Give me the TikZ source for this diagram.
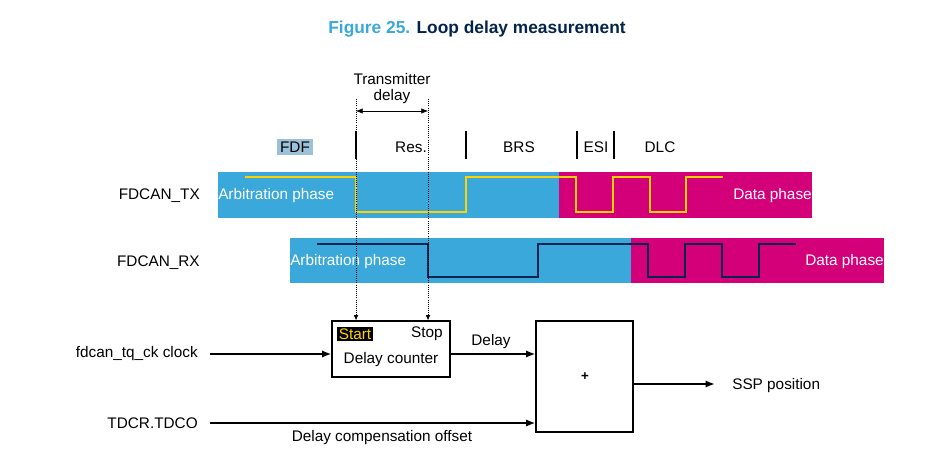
\documentclass[tikz,border=0pt]{standalone}
\usepackage{fontspec}
\setmainfont{Liberation Sans}
\usetikzlibrary{arrows.meta}

\definecolor{arbblue}{HTML}{3AA8DA}
\definecolor{datamag}{HTML}{D4007A}
\definecolor{txyellow}{HTML}{FFD200}
\definecolor{rxnavy}{HTML}{0B2551}
\definecolor{titleblue}{HTML}{3AA8DC}
\definecolor{titlenavy}{HTML}{03234B}
\definecolor{fdfback}{HTML}{9CC2DA}

\begin{document}
\begin{tikzpicture}[x = .75pt, y = -.75pt, font = \fontsize{11.5}{13}\selectfont,
    lbl/.style = {inner sep = 0pt, text = black},
    bandtxt/.style = {inner sep = 0pt, text = white},
    sig/.style = {line width = 1.4pt, -{Latex[length = 7pt, width = 5.5pt]}},
    probe/.style = {densely dotted, line width = .6pt, -{Latex[length = 4pt, width = 3.5pt]}},
    fieldbar/.style = {line width = 1.5pt}]
        \useasboundingbox (0,0) rectangle (935,466);
        % title
        \node[font = \fontsize{13}{15}\selectfont\bfseries] (title) at (477,29)
             {\textcolor{titleblue}{Figure 25.} \textcolor{titlenavy}{Loop delay measurement}};
        % transmitter delay
        \node[lbl, align = center] (tdly) at (392,89) {Transmitter\\[-1pt]delay};
        \coordinate (d1) at (356,99);
        \coordinate (d2) at (428,99);
        \coordinate (da) at (356,111);
        \coordinate (db) at (428,111);
        \draw[{Latex[length = 5pt, width = 4pt]}-{Latex[length = 5pt, width = 4pt]}] (da) -- (db);
        % frame fields
        \node[lbl, fill = fdfback, inner sep = 2pt] (fdf) at (295,147) {FDF};
        \node[lbl] (res) at (411,147) {Res.};
        \node[lbl] (brs) at (519,147) {BRS};
        \node[lbl] (esi) at (596,147) {ESI};
        \node[lbl] (dlc) at (660,147) {DLC};
        \draw[fieldbar] (356,131) -- (356,159);
        \draw[fieldbar] (466,131) -- (466,159);
        \draw[fieldbar] (577,131) -- (577,159);
        \draw[fieldbar] (614,131) -- (614,159);
        % FDCAN_TX
        \fill[arbblue] (218,172) rectangle (559,218);
        \fill[datamag] (559,172) rectangle (812,218);
        \node[lbl, anchor = east] (txl) at (200,196) {FDCAN\_TX};
        \node[bandtxt, anchor = west] (txarb) at (218,196) {Arbitration phase};
        \node[bandtxt, anchor = east] (txdat) at (812,196) {Data phase};
        \draw[txyellow, line width = 1.4pt] (245,177) -| (356,212) -| (466,177) -| (576,212)
             -| (613,177) -| (650,212) -| (686,177) -- (723,177);
        % FDCAN_RX
        \fill[arbblue] (290,238) rectangle (631,283);
        \fill[datamag] (631,238) rectangle (884,283);
        \node[lbl, anchor = east] (rxl) at (200,263) {FDCAN\_RX};
        \node[bandtxt, anchor = west] (rxarb) at (290,262) {Arbitration phase};
        \node[bandtxt, anchor = east] (rxdat) at (884,262) {Data phase};
        \draw[rxnavy, line width = 1.4pt] (317,244) -| (428,277) -| (538,244) -| (648,277)
             -| (685,244) -| (722,277) -| (759,244) -- (796,244);
        % delay counter
        \node[draw, line width = .8pt, minimum width = 88.5pt, minimum height = 42pt] (cnt) at (391,349) {};
        \node[inner sep = 1pt, fill = black, text = txyellow] (start) at (355,334) {Start};
        \node[lbl] (stop) at (427,334) {Stop};
        \node[lbl] (cntl) at (391,360) {Delay counter};
        \draw[probe] (d1) -- (d1 |- cnt.north);
        \draw[probe] (d2) -- (d2 |- cnt.north);
        % adder
        \node[draw, line width = .8pt, minimum width = 72.75pt, minimum height = 83.25pt] (add) at (584.5,376.5) {};
        \node[font = \bfseries] (plus) at (585,377) {+};
        % inputs and output
        \node[lbl, anchor = east] (clk) at (198,354) {fdcan\_tq\_ck clock};
        \node[lbl, anchor = east] (tdco) at (198,423) {TDCR.TDCO};
        \draw[sig] ([xshift = 9pt]clk.east) -- (clk -| cnt.west);
        \draw[sig] (clk -| cnt.east) -- (clk -| add.west);
        \node[lbl] (dlyl) at (491,342) {Delay};
        \draw[sig] ([xshift = 9pt]tdco.east) -- (tdco -| add.west);
        \node[lbl] (ofs) at (382,438) {Delay compensation offset};
        \coordinate (ssp) at (715,384);
        \draw[sig] (add.east |- ssp) -- (ssp);
        \node[lbl, anchor = west] (sspl) at (732,386) {SSP position};
      \end{tikzpicture}
\end{document}
